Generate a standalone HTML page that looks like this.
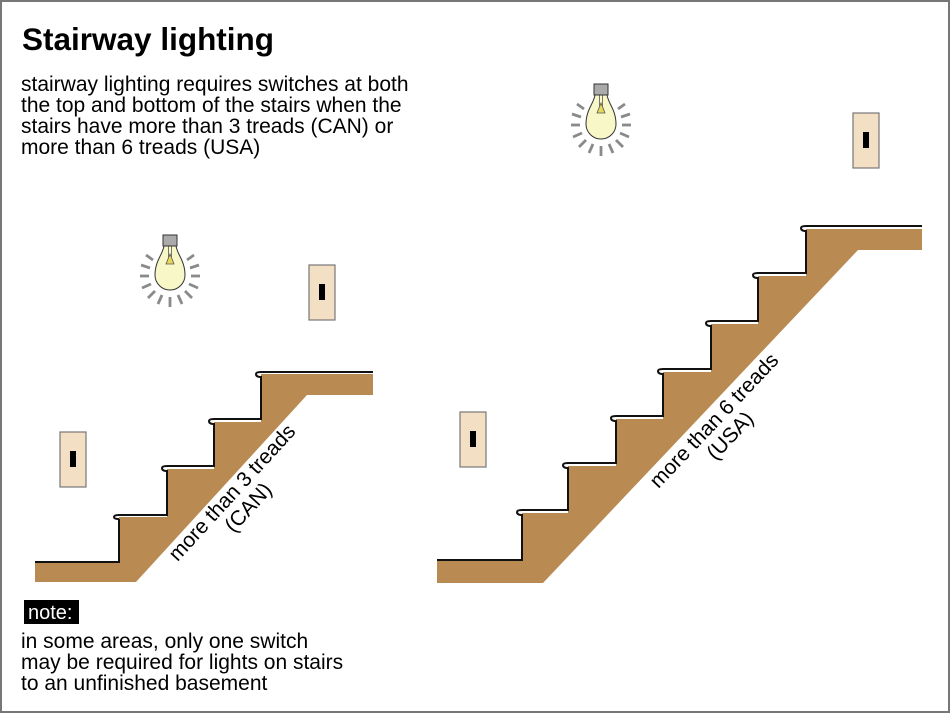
<!DOCTYPE html>
<html><head><meta charset="utf-8"><style>
html,body{margin:0;padding:0;background:#fff}
svg{display:block}
text{font-family:"Liberation Sans",Arial,sans-serif}
</style></head><body>
<svg width="951" height="714" viewBox="0 0 951 714" xmlns="http://www.w3.org/2000/svg">
<defs>
<g id="bulb">
  <g stroke="#8a8a8a" stroke-width="2.8" stroke-linecap="butt">
    <line x1="-20" y1="33" x2="-29" y2="30"/>
    <line x1="-21" y1="41" x2="-30" y2="41"/>
    <line x1="-19" y1="49" x2="-28" y2="53"/>
    <line x1="-15" y1="56" x2="-22" y2="63"/>
    <line x1="-8" y1="60" x2="-12" y2="69"/>
    <line x1="0" y1="62" x2="0" y2="72"/>
    <line x1="8" y1="60" x2="12" y2="69"/>
    <line x1="15" y1="56" x2="22" y2="63"/>
    <line x1="19" y1="49" x2="28" y2="53"/>
    <line x1="21" y1="41" x2="30" y2="41"/>
    <line x1="20" y1="33" x2="29" y2="30"/>
    <line x1="-17" y1="25" x2="-24" y2="20"/>
    <line x1="17" y1="25" x2="24" y2="20"/>
  </g>
  <path d="M-6 10 C-6 18 -15 25 -15 40 A15 15 0 0 0 15 40 C15 25 6 18 6 10 Z" fill="#f7f7c8" stroke="#333" stroke-width="1"/>
  <path d="M-4 29 L0 19 L4 29 Z" fill="#e8d85a" stroke="#555" stroke-width="0.8"/>
  <line x1="-1.5" y1="10" x2="-1.5" y2="22" stroke="#555" stroke-width="0.8"/>
  <line x1="1.5" y1="10" x2="1.5" y2="22" stroke="#555" stroke-width="0.8"/>
  <rect x="-7" y="0" width="14" height="11" fill="#aaa" stroke="#333" stroke-width="1"/>
</g>
<g id="sw">
  <rect x="0" y="0" width="26" height="55" fill="#f3dfc4" stroke="#777" stroke-width="1.2"/>
  <rect x="10" y="19" width="6" height="16" fill="#000"/>
</g>
</defs>
<rect x="1" y="1" width="948" height="711" fill="#fff" stroke="#777" stroke-width="2"/>

<text x="22" y="50" font-size="31.5" font-weight="bold">Stairway lighting</text>
<g font-size="21">
<text x="21" y="91">stairway lighting requires switches at both</text>
<text x="21" y="112">the top and bottom of the stairs when the</text>
<text x="21" y="133">stairs have more than 3 treads (CAN) or</text>
<text x="21" y="154">more than 6 treads (USA)</text>
</g>

<rect x="24" y="600" width="55" height="24" fill="#000"/>
<text x="28" y="619" font-size="20" fill="#fff">note:</text>
<g font-size="21">
<text x="21" y="648">in some areas, only one switch</text>
<text x="21" y="669">may be required for lights on stairs</text>
<text x="21" y="690">to an unfinished basement</text>
</g>

<!-- left stair -->
<path d="M35 562 L119 562 L119 517 L167 517 L167 469 L214 469 L214 422 L261 422 L261 374 L373 374 L373 395 L307 395 L136 582 L35 582 Z" fill="#b98b52"/>
<path d="M35 562 L119 562 L119 519 M119 519 Q114 519 114 517 Q114 515 119 515 L167 515 L167 471 Q162 471 162 468 Q162 466 167 466 L214 466 L214 424 Q209 424 209 421 Q209 419 214 419 L261 419 L261 377 Q256 377 256 374 Q256 372 261 372 L373 372" fill="none" stroke="#111" stroke-width="2"/>
<text transform="translate(240,500) rotate(-47.5)" font-size="21" text-anchor="middle"><tspan x="0" y="-4">more than 3 treads</tspan><tspan x="0" y="18">(CAN)</tspan></text>

<!-- right stair -->
<path d="M437 560 L522 560 L522 513 L568 513 L568 466 L616 466 L616 419 L663 419 L663 372 L711 372 L711 324 L758 324 L758 276 L806 276 L806 229 L922 229 L922 250 L858 250 L543 583 L437 583 Z" fill="#b98b52"/>
<path d="M437 560 L522 560 L522 515 Q517 515 517 512 Q517 510 522 510 L568 510 L568 468 Q563 468 563 465 Q563 463 568 463 L616 463 L616 421 Q611 421 611 418 Q611 416 616 416 L663 416 L663 374 Q658 374 658 371 Q658 369 663 369 L711 369 L711 326 Q706 326 706 323 Q706 321 711 321 L758 321 L758 278 Q753 278 753 275 Q753 273 758 273 L806 273 L806 231 Q801 231 801 228 Q801 226 806 226 L922 226" fill="none" stroke="#111" stroke-width="2"/>
<text transform="translate(722,428) rotate(-46.5)" font-size="21" text-anchor="middle"><tspan x="0" y="-4">more than 6 treads</tspan><tspan x="0" y="18">(USA)</tspan></text>

<use href="#bulb" transform="translate(170,235)"/>
<use href="#bulb" transform="translate(601,84)"/>
<use href="#sw" transform="translate(60,432)"/>
<use href="#sw" transform="translate(309,265)"/>
<use href="#sw" transform="translate(853,113)"/>
<use href="#sw" transform="translate(460,412)"/>
</svg>
</body></html>
